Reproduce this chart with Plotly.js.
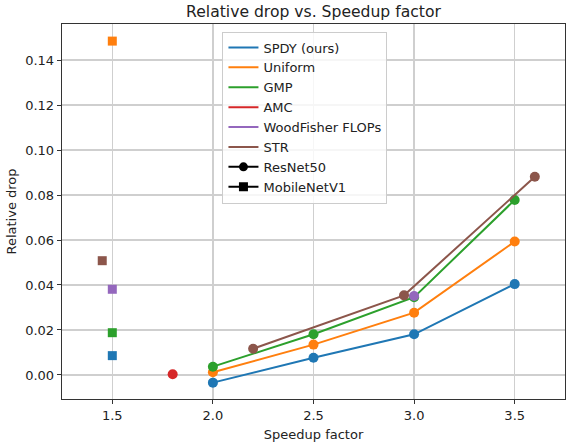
<!DOCTYPE html>
<html>
<head>
<meta charset="utf-8">
<script src="https://cdn.plot.ly/plotly-3.0.1.min.js"></script>
<style>
  html, body { margin: 0; padding: 0; background: #fff; }
  #graph { width: 570px; height: 444px; }
</style>
</head>
<body>
<div id="graph"></div>
<script>
// method names and colours (matplotlib tab10)
const methods = ['SPDY (ours)', 'Uniform', 'GMP', 'AMC', 'WoodFisher FLOPs', 'STR'];
const colors = ['#1f77b4', '#ff7f0e', '#2ca02c', '#d62728', '#9467bd', '#8c564b'];

// ResNet50 (circles, joined by lines)
const resnetX = [
    [2.0, 2.5, 3.0, 3.5],
    [2.0, 2.5, 3.0, 3.5],
    [2.0, 2.5, 3.0, 3.5],
    [1.8],
    [3.0],
    [2.2, 2.95, 3.6]
];
const resnetY = [
    [-0.0034, 0.0077, 0.0181, 0.0404],
    [0.0012, 0.0135, 0.0277, 0.0593],
    [0.0037, 0.0181, 0.0346, 0.0778],
    [0.0003],
    [0.0351],
    [0.0117, 0.0354, 0.0881]
];

// MobileNetV1 (squares), AMC has no point
const mobileX = [[1.5], [1.5], [1.5], [], [1.5], [1.45]];
const mobileY = [[0.0086], [0.1484], [0.0188], [], [0.0381], [0.0508]];

const modelNames = ['ResNet50', 'MobileNetV1'];
const modelSymbols = ['circle', 'square'];

const xTicks = [1.5, 2.0, 2.5, 3.0, 3.5];
const yTicks = [0.00, 0.02, 0.04, 0.06, 0.08, 0.10, 0.12, 0.14];

let traces = [];

// legend entries: colour lines for methods
methods.forEach((name, i) => {
    traces.push({
        x: [null], y: [null],
        type: 'scatter', mode: 'lines',
        name: name,
        line: { color: colors[i], width: 2 }
    });
});
// legend entries: black marker for the model
modelNames.forEach((name, i) => {
    traces.push({
        x: [null], y: [null],
        type: 'scatter', mode: 'lines+markers',
        name: name,
        line: { color: '#000', width: 2 },
        marker: { color: '#000', symbol: modelSymbols[i], size: 9 }
    });
});

// the real data
methods.forEach((name, i) => {
    traces.push({
        x: resnetX[i], y: resnetY[i],
        type: 'scatter', mode: 'lines+markers',
        showlegend: false,
        line: { color: colors[i], width: 2 },
        marker: { color: colors[i], symbol: 'circle', size: 10 }
    });
});
methods.forEach((name, i) => {
    if (!mobileX[i].length) return;
    traces.push({
        x: mobileX[i], y: mobileY[i],
        type: 'scatter', mode: 'markers',
        showlegend: false,
        marker: { color: colors[i], symbol: 'square', size: 9 }
    });
});

const axisFont = { family: 'DejaVu Sans, sans-serif', size: 13, color: '#222' };

const layout = {
    width: 570, height: 444,
    paper_bgcolor: '#fff',
    plot_bgcolor: '#fff',
    font: { family: 'DejaVu Sans, sans-serif', color: '#222' },
    title: {
        text: 'Relative drop vs. Speedup factor',
        font: { family: 'DejaVu Sans, sans-serif', size: 15.6, color: '#222' },
        x: 0.5, xref: 'paper', xanchor: 'center',
        y: 0.975, yanchor: 'middle'
    },
    margin: { l: 62, r: 5, t: 24, b: 45 },
    hovermode: false,
    xaxis: {
        range: [1.25, 3.75],
        tickvals: xTicks,
        tickformat: '.1f',
        ticks: 'outside', ticklen: 4, tickcolor: '#333',
        showline: true, mirror: true, linecolor: '#333', linewidth: 1.3,
        showgrid: true, gridcolor: '#cfcfcf', gridwidth: 1.3,
        zeroline: false,
        tickfont: axisFont,
        title: { text: 'Speedup factor', font: axisFont, standoff: 8 }
    },
    yaxis: {
        range: [-0.01067, 0.156],
        tickvals: yTicks,
        tickformat: '.2f',
        ticks: 'outside', ticklen: 4, tickcolor: '#333',
        showline: true, mirror: true, linecolor: '#333', linewidth: 1.3,
        showgrid: true, gridcolor: '#cfcfcf', gridwidth: 1.3,
        zeroline: false,
        tickfont: axisFont,
        title: { text: 'Relative drop', font: axisFont, standoff: 5 }
    },
    legend: {
        x: 0.319, y: 0.98, xanchor: 'left', yanchor: 'top',
        bgcolor: 'rgba(255,255,255,0.8)',
        bordercolor: '#cccccc', borderwidth: 1,
        font: { family: 'DejaVu Sans, sans-serif', size: 13, color: '#222' },
        tracegroupgap: 0
    }
};

Plotly.newPlot('graph', traces, layout, { displayModeBar: false, staticPlot: true });
</script>
</body>
</html>
